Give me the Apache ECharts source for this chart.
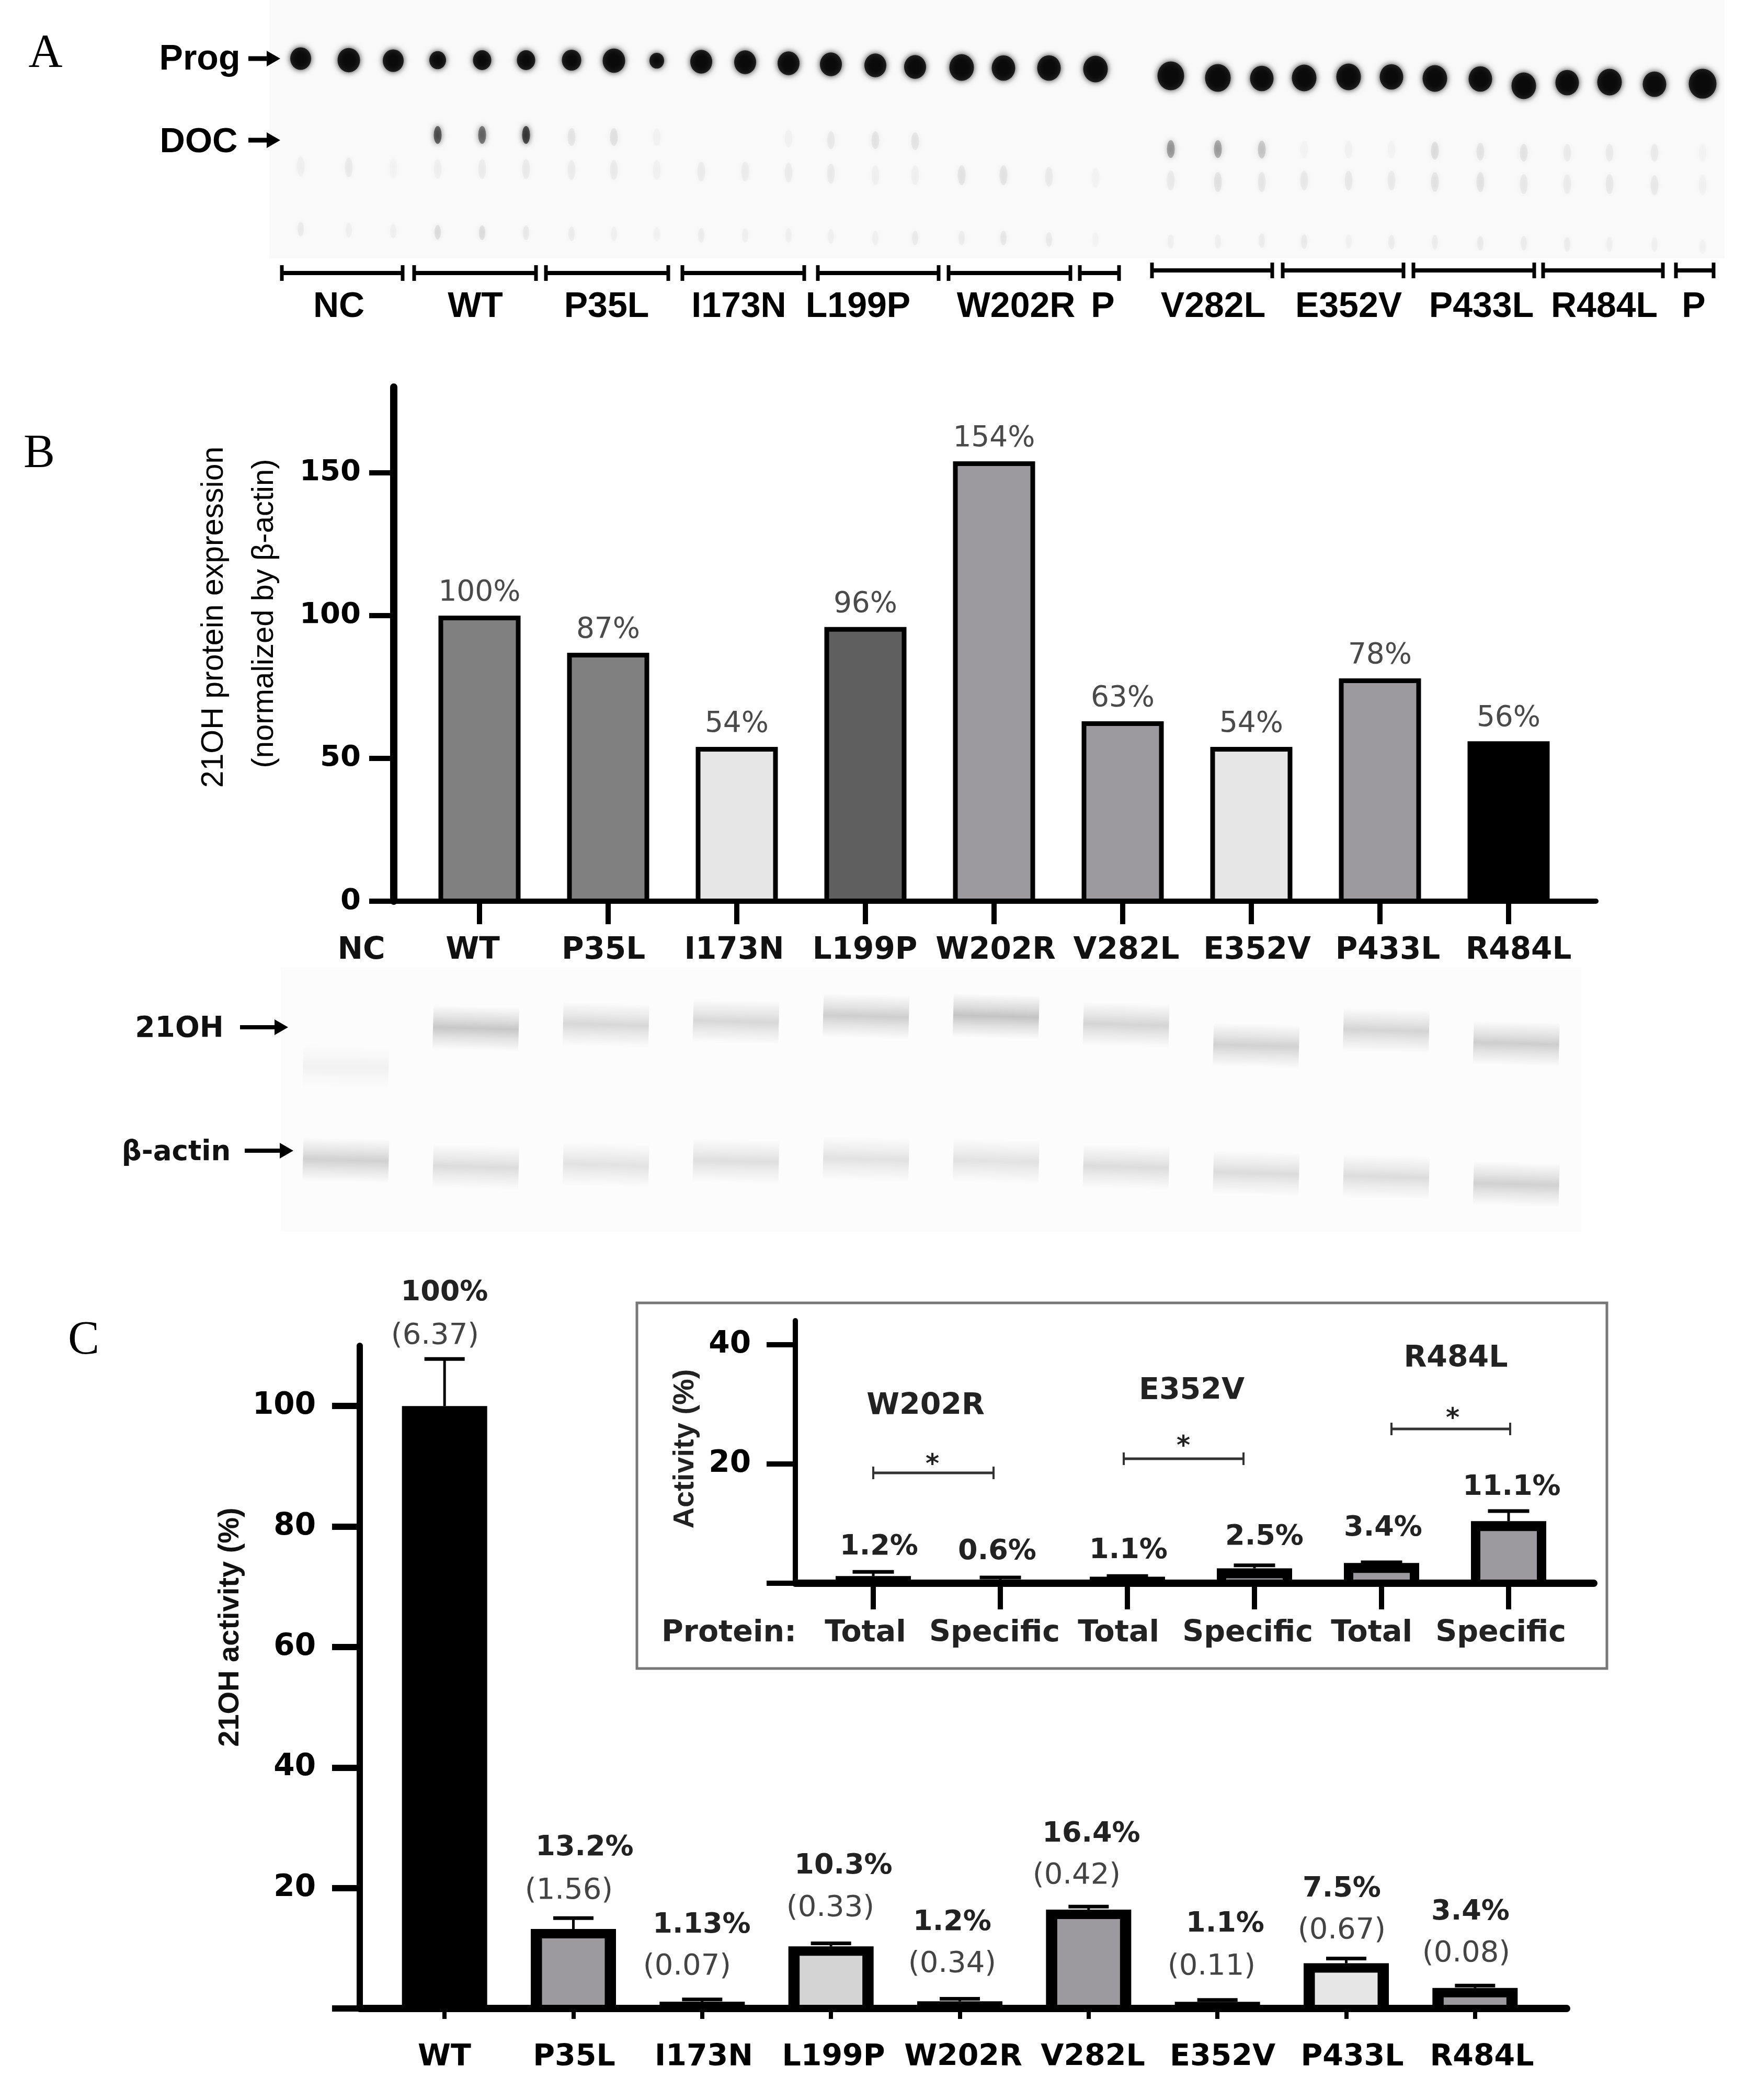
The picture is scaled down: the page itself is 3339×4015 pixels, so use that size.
<!DOCTYPE html>
<html><head><meta charset="utf-8">
<style>html,body{margin:0;padding:0;background:#fff}#c{width:3339px;height:4015px}</style>
<script src="https://cdn.jsdelivr.net/npm/echarts@6/dist/echarts.min.js"></script>
</head><body><div id="c"></div>
<script>
// ---------- DATA ----------
const plateLaneX = [575,667,752,837,922,1006,1093,1174,1256,1341,1425,1508,1589,1674,1750,1839,1919,2006,2095,2239,2329,2413,2494,2579,2661,2744,2831,2914,2997,3078,3164,3256];
const progY = [112,115,116,115,115,115,115,116,116,118,119,121,123,125,128,129,130,130,132,145,149,150,149,147,147,150,151,164,158,157,161,160];
const progSpotSize = [40,43,40,32,35,35,37,43,28,42,42,42,42,42,42,47,45,45,47,51,49,45,47,47,45,47,45,47,45,47,45,53];
const docY = [255,256,256,258,258,258,262,262,262,265,265,265,268,268,270,272,272,272,275,285,285,286,286,286,286,288,290,292,292,292,292,292];
const docIntensity = [0,0,0,.5,.42,.6,.05,.06,.02,0,0,.02,.04,.05,.05,0,0,0,0,.26,.24,.13,.015,.02,.015,.07,.05,.05,.035,.035,.035,.015];
const band3Y = [318,320,322,323,323,323,325,325,325,328,328,330,332,335,335,335,335,338,340,345,348,348,345,345,345,348,348,352,352,352,354,354];
const band3Intensity = [.025,.035,.015,.025,.03,.035,.03,.035,.02,.03,.03,.03,.035,.025,.025,.05,.05,.035,.015,.035,.055,.045,.04,.04,.035,.05,.05,.04,.03,.04,.04,.02];
const band4Y = [438,440,442,444,445,445,447,447,448,450,450,450,452,455,455,455,455,458,458,462,462,460,462,462,463,463,465,465,467,467,467,472];
const band4Intensity = [.035,.025,.025,.07,.07,.04,.03,.025,.02,.03,.025,.025,.025,.025,.035,.03,.045,.035,.015,.025,.025,.03,.035,.02,.03,.03,.035,.03,.03,.025,.025,.02];
const plateGroups = ['NC','WT','P35L','I173N','L199P','W202R','P','V282L','E352V','P433L','R484L','P'];

const exprCats = ['NC','WT','P35L','I173N','L199P','W202R','V282L','E352V','P433L','R484L'];
const exprValues = [null,100,87,54,96,154,63,54,78,56];
const exprLabels = ['','100%','87%','54%','96%','154%','63%','54%','78%','56%'];
const exprTicks = [0,50,100,150];
const blot21OHY = [2040,1966,1959,1953,1943,1943,1959,1999,1970,1995];
const blot21OHIntensity = [.16,.8,.55,.55,.7,.85,.6,.65,.6,.7];
const blotActinY = [2218,2231,2227,2220,2216,2220,2231,2243,2250,2264];
const blotActinIntensity = [.75,.55,.45,.5,.45,.45,.55,.55,.55,.75];

const actCats = ['WT','P35L','I173N','L199P','W202R','V282L','E352V','P433L','R484L'];
const actValues = [100,13.2,1.13,10.3,1.2,16.4,1.1,7.5,3.4];
const actErrTop = [107.8,15,1.5,10.8,1.6,16.9,1.4,8.3,3.8];
const actPct = ['100%','13.2%','1.13%','10.3%','1.2%','16.4%','1.1%','7.5%','3.4%'];
const actSD = ['(6.37)','(1.56)','(0.07)','(0.33)','(0.34)','(0.42)','(0.11)','(0.67)','(0.08)'];
const actTicks = [0,20,40,60,80,100];

const insetCats = ['Total','Specific','Total ','Specific ','Total  ','Specific  '];
const insetValues = [1.2,.6,1.1,2.5,3.4,10.4];
const insetErrTop = [1.9,.96,1.2,3,3.5,12.1];
const insetLabels = ['1.2%','0.6%','1.1%','2.5%','3.4%','11.1%'];
const insetGroups = ['W202R','E352V','R484L'];
const insetTicks = [0,20,40];

// ---------- COLOURS / LAYOUT (separate from data) ----------
const G='#9c9a9e', L='#e6e6e6', M='#d4d4d4';
const exprColors=['#fff','#808080','#808080',L,'#5f5f5f',G,G,L,G,'#000'];
const actColors=['#000',G,G,M,G,G,G,L,G];
const insetColors=[G,G,G,G,G,G];
const sans='"DejaVu Sans"', lib='"Liberation Sans"', serif='"Liberation Serif"';
const plateGroupLayout=[[539,770,522,648],[792,1025,522,909],[1044,1278,522,1160],[1305,1538,522,1413],[1564,1795,522,1641],[1814,2047,522,1943],[2065,2140,522,2109],[2203,2433,517,2320],[2453,2684,517,2579],[2703,2934,517,2833],[2951,3180,517,3068],[3205,3277,517,3239]];
const actPctLayout=[[850,2468],[1118,3529],[1342,3677],[1613,3564],[1821,3672],[2087,3503],[2343,3675],[2566,3608],[2812,3652]];
const actSDLayout=[[832,2550],[1088,3611],[1314,3756],[1588,3644],[1821,3751],[2059,3582],[2317,3756],[2566,3687],[2804,3731]];
const insetLabelLayout=[[1681,2954],[1907,2963],[2158,2961],[2418,2935],[2645,2918],[2891,2840]];
const insetGroupLayout=[[1770,2685],[2279,2656],[2784,2594]];
const sigLayout=[[1670,1900,2816,1783,2798],[2149,2378,2789,2263,2763],[2661,2888,2732,2778,2710]];

// ---------- HELPERS ----------
const g=[];
function txt(t,x,y,font,fill,rot){g.push({type:'text',x:x+(rot?4:0),y:y+(rot?0:4),rotation:rot||0,z:20,style:{text:t,font,fill:fill||'#000',align:'center',verticalAlign:'middle'}});}
function ln(x1,y1,x2,y2,w,c){g.push({type:'line',z:20,shape:{x1,y1,x2,y2},style:{stroke:c||'#111',lineWidth:w}});}
function arrow(x1,x2,y,w){ln(x1,y,x2-22,y,w,'#000');g.push({type:'polygon',z:20,shape:{points:[[x2-26,y-15],[x2,y],[x2-26,y+15]]},style:{fill:'#000'}});}
function bracket(x1,x2,y,w,tick,c){ln(x1,y,x2,y,w,c);ln(x1,y-tick/2,x1,y+tick/2,w-1,c);ln(x2,y-tick/2,x2,y+tick/2,w-1,c);}
const HALF=Math.PI/2;

txt('A',87,100,`90px ${serif}`);txt('B',75,865,`90px ${serif}`);txt('C',160,2560,`90px ${serif}`);
txt('Prog',382,110,`bold 68px ${lib}`);txt('DOC',380,269,`bold 67px ${lib}`);
arrow(475,536,112,9);arrow(475,536,268,9);
plateGroups.forEach((n,i)=>{const l=plateGroupLayout[i];bracket(l[0],l[1],l[2],8,30,'#000');txt(n,l[3],583,`bold 68px ${lib}`);});

txt('21OH protein expression',406,1180,`59px ${lib}`,'#000',HALF);
txt('(normalized by β-actin)',502,1173,`58px ${lib}`,'#000',HALF);
txt('21OH',343,1964,`bold 55px ${sans}`,'#111');arrow(459,551,1964,8);
txt('β-actin',337,2200,`bold 53px ${sans}`,'#111');arrow(468,561,2200,8);

txt('21OH activity (%)',437,3111,`bold 56px ${lib}`,'#111',HALF);
actPct.forEach((s,i)=>txt(s,actPctLayout[i][0],actPctLayout[i][1],`bold 54px ${sans}`,'#222'));
actSD.forEach((s,i)=>txt(s,actSDLayout[i][0],actSDLayout[i][1],`56px ${sans}`,'#444'));

g.push({type:'rect',z:1,shape:{x:1218,y:2491,width:1855,height:699},style:{fill:'none',stroke:'#777',lineWidth:5}});
txt('Activity (%)',1307,2770,`bold 56px ${lib}`,'#222',HALF);
txt('Protein:',1394,3119,`bold 57px ${sans}`,'#222');
insetLabels.forEach((s,i)=>txt(s,insetLabelLayout[i][0],insetLabelLayout[i][1],`bold 54px ${sans}`,'#222'));
insetGroups.forEach((s,i)=>txt(s,insetGroupLayout[i][0],insetGroupLayout[i][1],`bold 57px ${sans}`,'#222'));
sigLayout.forEach(s=>{bracket(s[0],s[1],s[2],5,24,'#333');txt('*',s[3],s[4],`bold 50px ${sans}`,'#222');});

// ---------- SPOTS ----------
function spots(ys,ints,w,h){return plateLaneX.map((x,i)=>({value:[x,ys[i]],symbolSize:[w,h],itemStyle:{opacity:ints[i]}})).filter(d=>d.itemStyle.opacity>0);}
const progData=plateLaneX.map((x,i)=>({value:[x,progY[i]],symbolSize:[progSpotSize[i],progSpotSize[i]*1.08]}));
function scat(name,xi,yi,data,color,blur,symbol,shadow){return {type:'scatter',name,xAxisIndex:xi,yAxisIndex:yi,data,symbol:symbol||'circle',silent:true,animation:false,clip:true,itemStyle:{color,shadowColor:shadow||color,shadowBlur:blur}};}
const bandFill=c=>({type:'linear',x:0,y:0,x2:0,y2:1,colorStops:[{offset:0,color:`rgba(${c},${c},${c},0)`},{offset:.3,color:`rgba(${c},${c},${c},.55)`},{offset:.5,color:`rgba(${c},${c},${c},1)`},{offset:.72,color:`rgba(${c},${c},${c},.5)`},{offset:1,color:`rgba(${c},${c},${c},0)`}]});
const blotData=(ys,ints)=>exprCats.map((c,i)=>({value:[c,ys[i]],symbolSize:[164,84],symbolRotate:-1.5,itemStyle:{opacity:ints[i]}}));

// ---------- AXES ----------
const xA=[],yA=[],grids=[],series=[];
function grid(l,t,w,h,extra){grids.push(Object.assign({left:l,top:t,width:w,height:h,containLabel:false},extra||{}));return grids.length-1;}
function hiddenX(gi,o){xA.push(Object.assign({gridIndex:gi,show:false},o));return xA.length-1;}
function hiddenY(gi,o){yA.push(Object.assign({gridIndex:gi,show:false},o));return yA.length-1;}

const gp=grid(515,0,2783,494,{show:true,backgroundColor:'#f9f9f9',borderWidth:0});
const px=hiddenX(gp,{type:'value',min:515,max:3298}),py=hiddenY(gp,{type:'value',min:0,max:494,inverse:true});
series.push(scat('DOC',px,py,spots(docY,docIntensity,15,34),'#000',11));
series.push(scat('band3',px,py,spots(band3Y,band3Intensity,15,38),'#000',10));
series.push(scat('band4',px,py,spots(band4Y,band4Intensity,12,28),'#000',8));
series.push(scat('Prog',px,py,progData,'#000',12));

const gw=grid(537,1850,2487,505,{show:true,backgroundColor:'#fcfcfc',borderWidth:0});
const wx=hiddenX(gw,{type:'category',data:exprCats}),wy=hiddenY(gw,{type:'value',min:1850,max:2355,inverse:true});
series.push(scat('21OH',wx,wy,blotData(blot21OHY,blot21OHIntensity),bandFill(186),0,'rect','transparent'));
series.push(scat('beta-actin',wx,wy,blotData(blotActinY,blotActinIntensity),bandFill(194),0,'rect','transparent'));

function frame(l,t,w,h,max,ticks,labelTicks,opts){
  const gi=grid(l,t,w,h);
  xA.push({gridIndex:gi,type:'value',min:0,max:1,z:6,axisLine:{show:true,onZero:false,lineStyle:{color:'#000',width:opts.xw}},axisTick:{show:false},axisLabel:{show:false},splitLine:{show:false}});
  yA.push({gridIndex:gi,type:'value',min:0,max,interval:20,z:6,axisLine:{show:true,onZero:false,lineStyle:{color:'#000',width:opts.yw}},
    axisTick:{show:true,customValues:ticks,length:opts.tl,lineStyle:{color:'#000',width:opts.tw}},
    axisLabel:{show:true,customValues:labelTicks,margin:opts.lm,fontFamily:'DejaVu Sans',fontWeight:'bold',fontSize:opts.fs,color:'#000'},splitLine:{show:false}});
  return gi;
}
function bars(cfg){
  const gi=grid(cfg.l,cfg.t,cfg.w,cfg.h);
  const ax=xA.length;
  xA.push({gridIndex:gi,type:'category',data:cfg.cats,z:6,axisLine:{show:false},
    axisTick:{show:true,alignWithLabel:true,interval:cfg.tickInt||0,length:cfg.tickLen,lineStyle:{color:'#000',width:cfg.tickW}},
    axisLabel:{show:false}});
  const ax2=hiddenX(gi,{type:'category',data:cfg.cats});
  const ay=hiddenY(gi,{type:'value',min:0,max:cfg.max});
  const gl=grid(cfg.labelLeft,cfg.t,cfg.labelWidth,cfg.h);
  xA.push({gridIndex:gl,type:'category',data:cfg.cats,axisLine:{show:false},axisTick:{show:false},
    axisLabel:{interval:0,margin:cfg.lm,fontFamily:'DejaVu Sans',fontWeight:'bold',fontSize:cfg.lfs,color:cfg.lc||'#111',
      formatter:cfg.labelFmt||undefined,rich:cfg.labelRich||undefined}});
  hiddenY(gl,{type:'value',min:0,max:1});
  const unit=cfg.h/cfg.max;
  if(cfg.err) series.push({type:'custom',name:cfg.name+' error',xAxisIndex:ax,yAxisIndex:ay,z:2,silent:true,animation:false,clip:false,
    data:cfg.err.map((v,i)=>[i,v,cfg.vals[i]]),encode:{x:0,y:1},
    renderItem:(p,api)=>{const a=api.coord([api.value(0),api.value(1)]),b=api.coord([api.value(0),api.value(2)]);
      return {type:'group',children:[
        {type:'line',shape:{x1:a[0],y1:a[1],x2:a[0],y2:b[1]},style:{stroke:'#000',lineWidth:5}},
        {type:'line',shape:{x1:a[0]-cfg.capW/2,y1:a[1],x2:a[0]+cfg.capW/2,y2:a[1]},style:{stroke:'#000',lineWidth:7}}]};}});
  series.push({type:'bar',name:cfg.name,xAxisIndex:ax,yAxisIndex:ay,z:3,barWidth:cfg.bw,animation:false,silent:true,
    data:cfg.vals,itemStyle:{color:'#000'},
    label:cfg.labels?{show:true,position:'top',distance:cfg.ld,fontFamily:'DejaVu Sans',fontSize:cfg.lsize,color:'#4a4a4a',formatter:p=>cfg.labels[p.dataIndex]}:{show:false}});
  series.push({type:'bar',name:cfg.name+' fill',xAxisIndex:ax2,yAxisIndex:ay,z:4,barWidth:cfg.ibw,animation:false,silent:true,
    data:cfg.vals.map((v,i)=>{const t=v===null?null:v-cfg.top/unit;return {value:(t===null||t<=0)?null:t,itemStyle:{color:cfg.colors[i]}};})});
}

// Panel B
frame(753,740,2299,983,180,exprTicks,exprTicks,{xw:10,yw:14,tl:47,tw:10,lm:63,fs:56});
bars({name:'21OH expression',l:548,t:740,w:2460,h:983,max:180,cats:exprCats,vals:exprValues,colors:exprColors,bw:157,ibw:139,top:9,
  labels:exprLabels,ld:16,lsize:55,tickLen:44,tickW:10,tickInt:(i)=>i>0,lm:66,lfs:58,
  labelLeft:529,labelWidth:2500,labelFmt:v=>v==='NC'?'{nc|NC}':v,labelRich:{nc:{padding:[0,0,0,74],fontFamily:'DejaVu Sans',fontWeight:'bold',fontSize:58,color:'#111'}}});
// Panel C
frame(688,2573,2308,1267,110,actTicks,actTicks.slice(1),{xw:14,yw:12,tl:53,tw:12,lm:84,fs:58});
bars({name:'21OH activity',l:727,t:2573,w:2217,h:1267,max:110,cats:actCats,vals:actValues,colors:actColors,bw:163,ibw:120,top:18,err:actErrTop,capW:77,
  tickLen:20,tickW:8,lm:66,lfs:57,lc:'#000',labelLeft:726,labelWidth:2232});
// Inset
frame(1521,2525,1527,502,44,insetTicks,insetTicks.slice(1),{xw:14,yw:10,tl:55,tw:10,lm:85,fs:58});
bars({name:'Inset activity',l:1548.5,t:2525,w:1458,h:502,max:44,cats:insetCats,vals:insetValues,colors:insetColors,bw:144,ibw:108,top:19,err:insetErrTop,capW:79,
  tickLen:50,tickW:10,lm:68,lfs:57,lc:'#222',labelLeft:1531.5,labelWidth:1482});

const chart=echarts.init(document.getElementById('c'),null,{renderer:'canvas',width:3339,height:4015});
chart.setOption({animation:false,backgroundColor:'#fff',grid:grids,xAxis:xA,yAxis:yA,series,graphic:{elements:g}});
</script></body></html>
